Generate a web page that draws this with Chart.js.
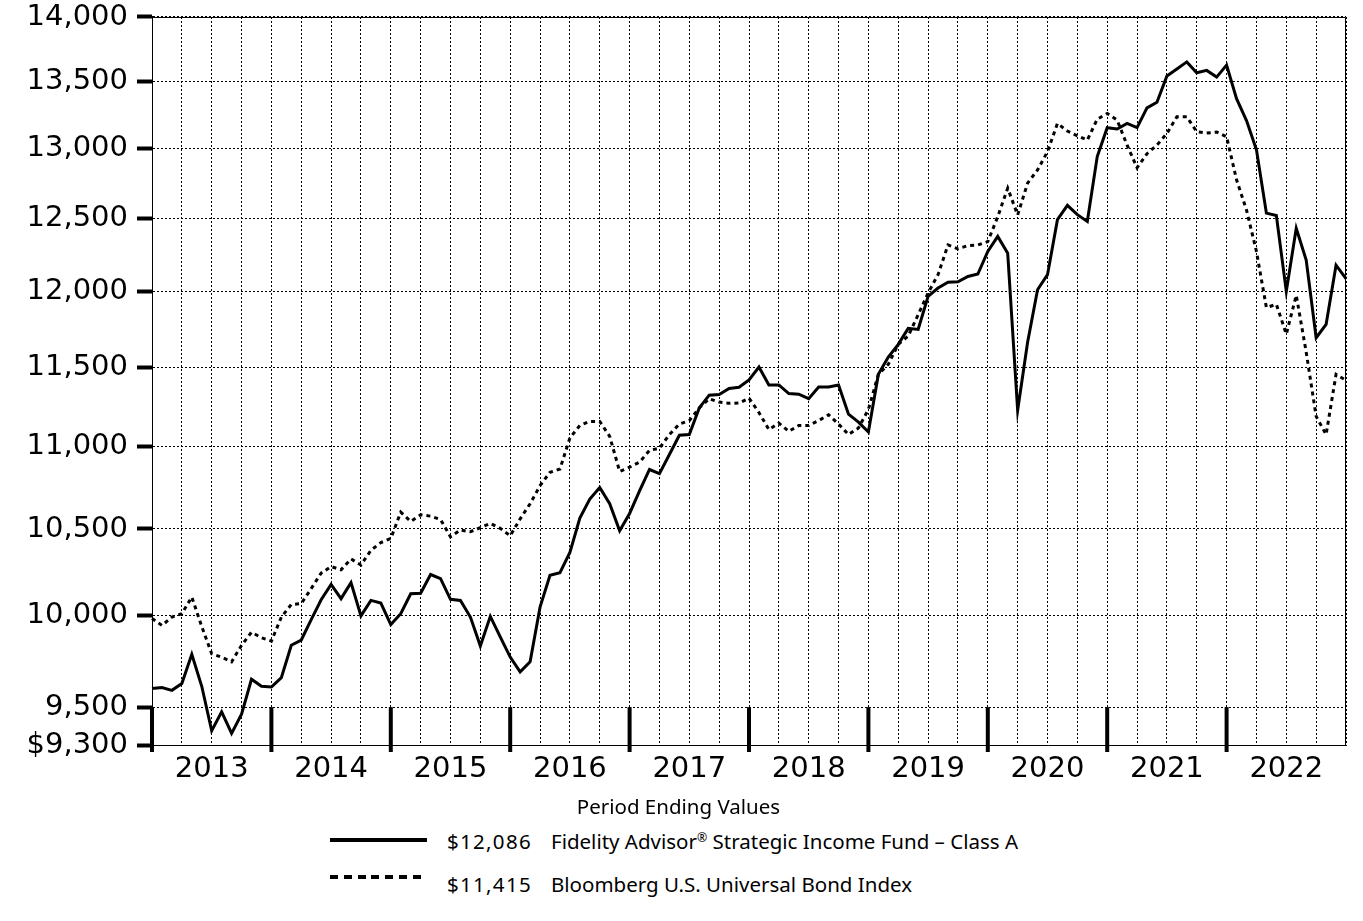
<!DOCTYPE html>
<html>
<head>
<meta charset="utf-8">
<script src="https://cdn.jsdelivr.net/npm/chart.js@4/dist/chart.umd.min.js"></script>
<style>
    body { margin: 0; background: #fff; }
    #wrap { position: relative; width: 1363px; height: 921px; }
    #c { position: absolute; left: 0; top: 0; }
    .lg { position: absolute; font-family: "Noto Sans", sans-serif; font-size: 20.5px; line-height: 24px; color: #000; white-space: nowrap; }
    .num { letter-spacing: 1.3px; }
    .reg { font-size: 60%; vertical-align: 0.55em; line-height: 0; }
    .sw { position: absolute; height: 4px; }
</style>
</head>
<body>
<div id="wrap">
    <canvas id="c" width="1363" height="800"></canvas>
    <div class="lg" id="legTitle" style="left:0;width:1357px;text-align:center;top:794px;">Period Ending Values</div>
    <div class="sw" style="left:330px;top:838px;width:97px;background:#000;"></div>
    <div class="lg num" id="val0" style="left:447px;top:829px;"></div>
    <div class="lg" id="name0" style="left:551px;top:829px;"></div>
    <div class="sw" style="left:330px;top:875px;width:92px;background:repeating-linear-gradient(90deg,#000 0 8px,transparent 8px 13.8px);"></div>
    <div class="lg num" id="val1" style="left:447px;top:872px;"></div>
    <div class="lg" id="name1" style="left:551px;top:872px;"></div>
</div>
<script>
// month ends, Dec 2012 -> Dec 2022
var startYear = 2012;
var yearLabels = ['2013', '2014', '2015', '2016', '2017', '2018', '2019', '2020', '2021', '2022'];

var yTicks = [9300, 9500, 10000, 10500, 11000, 11500, 12000, 12500, 13000, 13500, 14000];
var yTickLabels = ['$9,300', '9,500', '10,000', '10,500', '11,000', '11,500', '12,000', '12,500', '13,000', '13,500', '14,000'];

var seriesNames = ['Fidelity Advisor® Strategic Income Fund – Class A', 'Bloomberg U.S. Universal Bond Index'];

var fundValues = [
    9600, 9605, 9590, 9627, 9786, 9612, 9375, 9475, 9361, 9463, 9650, 9612,
    9608, 9659, 9836, 9865, 9979, 10091, 10178, 10097, 10188, 10000, 10087, 10072,
    9951, 10012, 10125, 10128, 10235, 10211, 10093, 10087, 9993, 9832, 9997, 9882,
    9771, 9690, 9745, 10049, 10230, 10245, 10363, 10565, 10678, 10748, 10650, 10490,
    10592, 10727, 10857, 10832, 10949, 11068, 11072, 11239, 11320, 11324, 11362, 11370,
    11417, 11500, 11385, 11385, 11330, 11326, 11298, 11372, 11372, 11385, 11200, 11150,
    11088, 11453, 11565, 11648, 11753, 11746, 11966, 12022, 12061, 12065, 12101, 12117,
    12272, 12376, 12260, 11224, 11662, 12011, 12113, 12493, 12594, 12528, 12481, 12944,
    13156, 13146, 13187, 13156, 13303, 13345, 13543, 13596, 13651, 13568, 13586, 13535,
    13627, 13372, 13208, 12993, 12539, 12522, 12000, 12432, 12212, 11691, 11779, 12178,
    12086
];

var indexValues = [
    9985, 9946, 9993, 10012, 10106, 9940, 9789, 9770, 9745, 9836, 9908, 9878,
    9859, 9993, 10064, 10069, 10154, 10243, 10281, 10262, 10325, 10290, 10375, 10420,
    10444, 10600, 10545, 10584, 10576, 10556, 10454, 10494, 10484, 10508, 10533, 10504,
    10460, 10560, 10650, 10759, 10840, 10860, 11051, 11129, 11154, 11154, 11061, 10845,
    10871, 10902, 10974, 10988, 11072, 11138, 11159, 11239, 11297, 11276, 11268, 11270,
    11301, 11210, 11103, 11144, 11092, 11129, 11129, 11159, 11196, 11138, 11072, 11113,
    11230, 11453, 11518, 11648, 11702, 11843, 11989, 12113, 12317, 12290, 12312, 12317,
    12340, 12514, 12716, 12526, 12752, 12847, 12980, 13187, 13131, 13096, 13064, 13219,
    13261, 13212, 13027, 12863, 12965, 13028, 13113, 13236, 13236, 13126, 13116, 13123,
    13089, 12776, 12561, 12272, 11891, 11913, 11715, 11973, 11597, 11186, 11072, 11453,
    11415
];

var yearTickFrom = 9500;

function buildPeriods()
{
    var names = ['Jan', 'Feb', 'Mar', 'Apr', 'May', 'Jun', 'Jul', 'Aug', 'Sep', 'Oct', 'Nov', 'Dec'];
    var out = [];
    for (var i = 0; i < fundValues.length; i++) {
        var m = (11 + i) % 12;
        out.push(names[m] + ' ' + (startYear + Math.floor((11 + i) / 12)));
    }
    return out;
}

function money(v)
{
    return '$' + v.toLocaleString('en-US');
}

/**
 * @param {string} id
 * @param {string} text
 */
function setName(id, text)
{
    var el = document.getElementById(id);
    var parts = text.split('®');
    el.textContent = '';
    parts.forEach(function(p, i) {
        if (i > 0) {
            var s = document.createElement('span');
            s.className = 'reg';
            s.textContent = '®';
            el.appendChild(s);
        }
        el.appendChild(document.createTextNode(p));
    });
}

var periods = buildPeriods();

// outer frame + thick year marks
var framePlugin = {
    id: 'frame',
    afterDraw: function(chart) {
        var ctx = chart.ctx,
            a = chart.chartArea,
            x = chart.scales.x,
            y = chart.scales.y;

        ctx.save();
        ctx.strokeStyle = '#000';
        ctx.lineWidth = 1;
        ctx.beginPath();
        ctx.moveTo(a.left, a.top + 0.5);
        ctx.lineTo(a.right - 0.5, a.top + 0.5);
        ctx.lineTo(a.right - 0.5, a.bottom);
        ctx.stroke();

        ctx.lineWidth = 4;
        var yTop = y.getPixelForValue(yearTickFrom);
        for (var i = 0; i < periods.length - 1; i += 12) {
            var px = x.getPixelForValue(i);
            ctx.beginPath();
            ctx.moveTo(px, yTop);
            ctx.lineTo(px, a.bottom + 7);
            ctx.stroke();
        }
        ctx.restore();
    }
};

new Chart(document.getElementById('c'), {
    type: 'line',
    data: {
        labels: periods,
        datasets: [{
            label: seriesNames[0],
            data: fundValues,
            borderColor: '#000',
            borderWidth: 3,
            pointRadius: 0,
            tension: 0
        }, {
            label: seriesNames[1],
            data: indexValues,
            borderColor: '#000',
            borderWidth: 3,
            borderDash: [4, 4],
            pointRadius: 0,
            tension: 0
        }]
    },
    options: {
        responsive: false,
        devicePixelRatio: 1,
        animation: false,
        layout: { padding: { left: 0, right: 17, top: 0, bottom: 0 } },
        plugins: {
            legend: { display: false },
            tooltip: { enabled: false }
        },
        scales: {
            x: {
                type: 'category',
                offset: false,
                border: { display: true, color: '#000', width: 1, dash: [2, 2] },
                grid: {
                    color: function(c) { return c.index % 3 === 0 ? '#000' : 'rgba(0,0,0,0)'; },
                    lineWidth: 1,
                    drawTicks: false
                },
                ticks: {
                    autoSkip: false,
                    maxRotation: 0,
                    padding: 9,
                    color: '#000',
                    font: { family: 'DejaVu Sans', size: 29, lineHeight: 1.035 },
                    callback: function(v, i) {
                        return i % 12 === 6 ? yearLabels[(i - 6) / 12] : '';
                    }
                },
                afterFit: function(s) { s.height = 55; }
            },
            y: {
                type: 'logarithmic',
                min: yTicks[0],
                max: yTicks[yTicks.length - 1],
                border: { display: true, color: '#000', width: 1, dash: [2, 2] },
                grid: {
                    color: '#000',
                    lineWidth: 1,
                    drawTicks: true,
                    tickLength: 15,
                    tickWidth: 4,
                    tickColor: '#000',
                    tickBorderDash: []
                },
                afterBuildTicks: function(s) {
                    s.ticks = yTicks.map(function(v) { return { value: v }; });
                },
                ticks: {
                    padding: 9,
                    color: '#000',
                    font: { family: 'DejaVu Sans', size: 29, lineHeight: 0.55 },
                    callback: function(v, i) { return yTickLabels[i]; }
                },
                afterFit: function(s) { s.width = 152; }
            }
        }
    },
    plugins: [framePlugin]
});

document.getElementById('val0').textContent = money(fundValues[fundValues.length - 1]);
document.getElementById('val1').textContent = money(indexValues[indexValues.length - 1]);
setName('name0', seriesNames[0]);
setName('name1', seriesNames[1]);
</script>
</body>
</html>
